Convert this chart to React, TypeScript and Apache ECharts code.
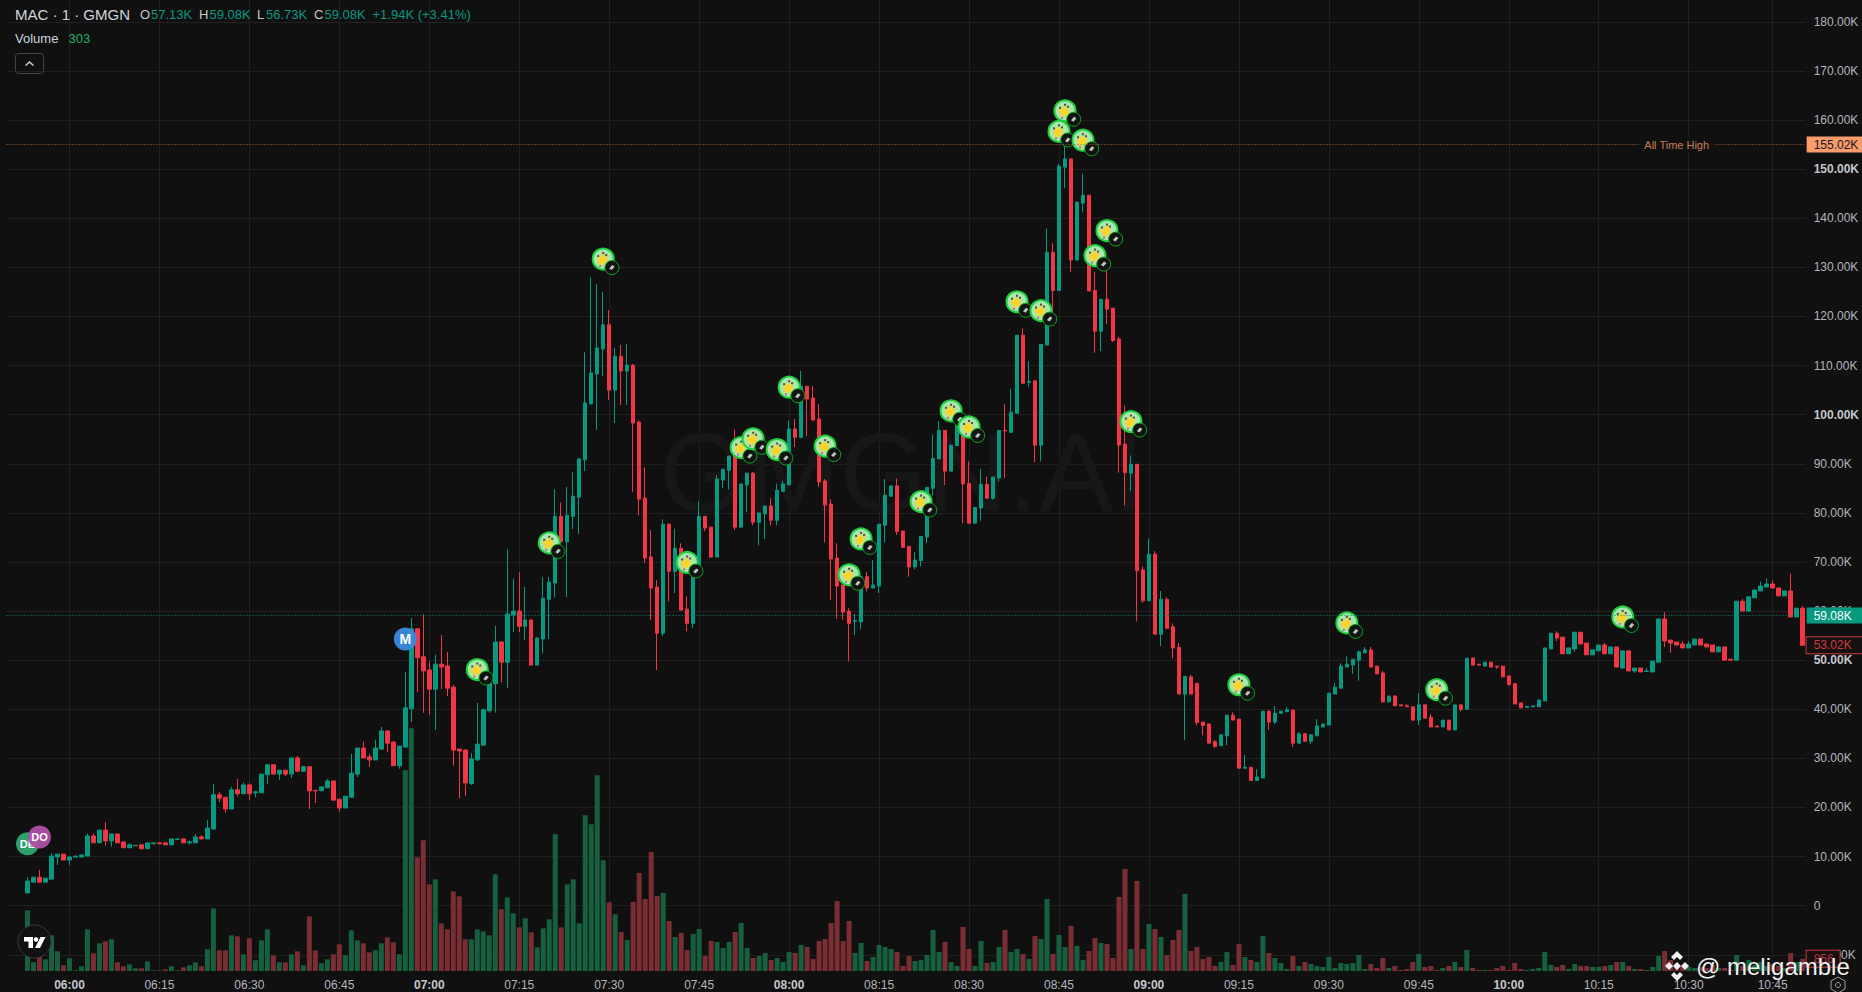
import React, { useEffect, useRef } from "react";
import * as echarts from "echarts";

const FONT = '"Liberation Sans", Arial, sans-serif';
const UP = "#089981";
const DOWN = "#F23645";

const opens = [
  2.6,4.8,5.8,4.8,5.4,9.9,10.5,9.3,9.9,9.9,
  10.1,14.2,12.8,15.4,13.2,14.6,13.0,11.8,12.2,12.4,
  11.6,12.6,12.8,12.8,12.4,13.5,13.6,12.8,12.8,14.0,
  13.6,15.6,22.6,22.1,19.7,23.6,22.8,24.6,23.0,23.0,
  26.7,28.7,26.8,27.6,26.8,30.1,27.4,28.3,23.5,23.4,
  24.0,25.4,21.7,19.9,22.1,26.8,32.1,30.3,29.7,31.9,
  35.6,33.3,28.5,32.3,40.1,56.4,50.7,48.0,44.1,49.2,
  48.8,44.5,31.9,31.7,24.9,29.7,32.7,39.7,45.2,53.7,
  49.6,59.2,60.0,56.9,58.2,49.0,54.3,62.4,65.7,79.3,
  74.1,79.3,83.2,90.8,102.2,108.3,113.4,118.3,105.0,111.9,
  108.9,110.1,98.5,83.0,71.0,64.9,55.5,77.7,68.1,72.8,
  60.4,57.5,69.2,79.3,77.1,71.0,86.7,88.7,94.0,77.1,
  85.7,88.1,78.1,79.8,81.4,78.5,84.4,85.7,97.1,95.4,
  105.8,103.4,99.1,86.5,81.8,70.8,65.3,60.0,57.9,57.8,
  67.0,64.7,65.1,77.5,83.4,85.5,76.3,73.2,69.0,70.3,
  75.1,85.0,91.0,96.8,88.5,93.7,96.0,86.0,77.9,81.0,
  85.8,83.0,87.1,96.8,96.4,100.3,116.2,106.6,106.9,93.8,
  114.2,133.1,125.3,150.4,152.1,131.5,143.1,144.7,125.3,117.0,
  123.5,121.7,115.4,94.0,88.1,89.9,68.4,62.1,71.6,55.3,
  62.4,56.8,52.6,43.1,46.6,45.3,37.4,37.0,33.4,32.6,
  34.6,38.8,38.0,28.0,28.2,25.5,26.0,39.6,37.4,39.2,
  39.5,39.8,33.1,35.0,33.5,34.6,36.4,36.8,43.1,44.3,
  48.6,49.0,50.0,51.5,52.1,48.8,47.4,41.5,42.7,40.9,
  40.7,40.5,37.8,40.9,38.4,36.6,36.4,37.8,35.8,40.9,
  40.0,50.4,49.2,48.8,49.6,48.8,48.8,46.8,45.2,41.3,
  40.4,40.5,40.5,41.7,52.3,55.5,54.7,51.3,52.3,55.7,
  53.5,51.1,51.9,53.1,51.3,52.7,48.4,51.9,47.8,48.4,
  47.7,47.6,49.6,58.4,54.1,53.7,53.3,52.5,53.1,54.3,
  53.3,53.1,51.7,52.7,50.2,50.0,62.0,60.0,62.7,64.1,
  64.9,65.5,64.7,63.1,64.1,58.8,60.6,
];
const closes = [
  5.0,5.8,4.8,5.6,10.1,10.5,9.3,9.9,10.1,10.3,
  14.2,12.8,15.4,13.2,14.6,12.8,11.8,12.4,12.3,11.6,
  12.8,12.8,12.6,12.4,13.6,13.6,12.8,13.0,14.0,13.6,
  15.8,22.6,21.9,19.7,23.6,22.8,24.6,22.8,23.2,26.8,
  28.7,26.8,27.6,26.8,30.1,27.4,28.3,23.4,23.4,24.2,
  25.4,21.5,19.9,22.3,27.0,32.1,30.1,29.7,32.1,35.6,
  33.1,28.5,32.5,40.3,56.4,50.5,47.8,44.1,49.2,48.6,
  44.3,31.7,31.5,25.0,29.9,32.9,39.9,45.2,53.7,49.6,
  59.4,60.0,56.9,58.2,49.0,54.5,62.6,65.9,79.3,74.1,
  79.5,83.4,91.0,102.4,108.5,113.6,118.3,105.0,111.9,108.9,
  110.1,98.3,82.8,70.8,64.7,55.5,77.7,68.1,72.8,60.2,
  57.5,69.3,79.3,76.9,71.0,86.9,88.9,91.6,77.1,85.9,
  88.1,78.1,80.0,81.4,78.5,84.6,85.9,97.1,95.4,105.8,
  103.2,98.9,86.3,81.6,70.6,65.1,59.8,57.5,58.1,67.0,
  64.7,65.3,77.7,83.6,85.5,76.2,73.0,69.0,70.4,75.2,
  85.2,91.1,96.8,88.5,93.8,97.9,85.9,77.9,81.1,85.8,
  83.0,87.3,96.8,96.7,100.5,116.2,106.4,106.8,93.8,114.3,
  133.1,125.3,150.6,152.1,131.5,143.3,144.7,125.2,117.0,123.5,
  121.5,115.1,93.8,88.2,89.9,68.2,62.1,71.6,55.3,62.4,
  56.5,52.5,43.1,46.7,43.1,37.3,36.7,33.1,32.4,34.8,
  38.8,37.8,28.0,28.2,25.5,26.2,39.6,37.4,39.2,39.6,
  39.9,33.1,35.0,33.5,34.8,36.6,37.0,43.3,44.5,48.8,
  49.2,50.2,51.7,52.1,48.6,47.2,41.5,42.7,40.7,40.7,
  40.5,37.8,40.9,38.2,36.4,36.4,37.8,35.8,40.9,40.0,
  50.4,49.0,49.0,49.6,48.6,48.6,46.6,45.0,41.1,40.3,
  40.6,40.7,41.9,52.5,55.5,54.5,51.3,52.5,55.7,53.3,
  51.1,52.1,53.1,51.3,52.7,48.6,51.9,47.8,48.4,47.6,
  47.8,49.8,58.4,53.9,53.5,53.1,52.5,53.3,54.3,53.1,
  52.7,51.7,52.7,50.0,50.0,62.0,60.0,62.9,64.3,65.1,
  65.5,64.7,63.1,64.1,58.8,60.6,53.02,
];
const lows = [
  2.6,4.8,4.7,4.8,5.4,8.3,9.3,8.3,9.9,9.9,
  10.1,12.8,12.8,12.2,12.0,12.8,11.8,11.8,12.2,11.6,
  11.6,12.6,12.6,12.4,12.4,13.5,12.8,12.4,12.8,13.6,
  13.6,15.6,21.1,18.9,19.7,22.2,22.8,21.5,22.1,23.0,
  24.8,26.8,25.6,26.4,26.0,27.2,27.2,19.7,20.9,23.4,
  24.0,21.5,19.1,19.9,22.1,26.2,30.1,28.3,29.7,31.7,
  31.3,28.5,27.9,32.3,37.4,43.5,39.3,38.8,35.8,44.1,
  42.7,28.5,21.9,22.3,24.6,29.5,32.7,39.3,39.3,45.4,
  44.3,55.7,55.7,54.1,49.0,49.0,51.4,54.3,62.8,74.1,
  62.9,76.7,75.7,88.5,102.2,96.9,107.9,103.0,98.3,102.0,
  102.0,84.2,79.5,69.8,58.2,48.0,54.9,62.0,63.7,60.2,
  55.9,56.5,69.2,76.3,71.0,71.0,85.0,84.8,76.5,77.0,
  80.2,77.5,73.4,74.7,77.5,77.5,84.4,85.7,93.4,95.2,
  95.6,98.9,85.3,74.0,62.3,58.4,58.2,49.8,55.1,56.3,
  64.0,64.7,63.7,74.0,83.4,75.5,73.0,67.0,68.5,69.1,
  73.8,83.5,91.0,85.7,88.5,93.7,77.9,77.9,77.9,78.4,
  83.0,82.7,86.4,87.1,96.4,100.3,106.4,105.6,90.3,90.5,
  114.2,120.9,125.3,146.1,129.1,131.5,141.2,125.2,112.6,113.0,
  118.4,114.8,88.2,81.5,84.4,57.9,61.7,62.1,55.2,52.9,
  56.5,50.4,43.1,33.7,43.1,36.7,34.7,33.1,32.2,32.6,
  32.7,37.8,28.0,28.0,25.5,25.5,26.0,35.8,37.0,39.2,
  39.5,32.3,33.1,33.5,32.9,34.6,36.4,36.8,43.1,44.3,
  48.6,47.2,45.8,51.5,48.6,47.2,41.5,41.5,40.7,40.7,
  40.5,37.8,36.8,38.2,36.4,36.4,36.4,35.8,35.8,39.6,
  40.0,49.0,49.0,48.8,48.6,48.2,46.6,45.0,41.1,40.3,
  40.3,40.5,40.5,41.7,52.3,53.9,51.3,51.3,51.7,53.3,
  51.1,51.1,51.9,51.3,51.3,48.6,48.4,47.8,47.4,47.6,
  47.6,47.6,49.6,52.7,51.5,53.1,52.5,52.5,53.1,53.1,
  52.7,51.7,51.7,50.0,50.0,50.0,60.0,60.0,62.7,64.1,
  64.9,64.7,63.1,63.1,58.8,58.8,53.02,
];
const highs = [
  5.8,5.8,7.3,5.6,10.7,10.6,10.5,9.9,10.1,10.5,
  14.7,14.7,15.4,17.0,14.6,14.6,13.0,12.7,12.3,12.4,
  12.8,12.8,12.8,12.8,13.6,13.6,13.6,13.3,14.6,14.4,
  17.4,24.8,23.2,22.1,24.2,25.8,25.1,24.9,23.4,26.8,
  28.7,28.7,27.6,27.6,30.1,30.5,28.5,28.3,23.5,24.2,
  25.8,25.4,21.7,22.3,30.9,32.1,33.4,30.9,33.8,36.4,
  35.6,33.6,32.5,47.6,58.6,56.4,59.4,49.8,51.1,55.1,
  51.7,45.0,31.9,31.9,31.1,41.3,40.1,45.2,57.0,53.9,
  72.6,66.6,67.9,64.9,58.2,54.7,66.9,67.0,84.8,82.1,
  85.3,88.3,91.0,112.7,128.0,126.6,125.0,121.3,113.6,114.2,
  114.4,110.3,98.9,89.3,76.5,66.3,78.7,77.9,76.8,73.8,
  63.0,69.3,82.4,79.3,77.1,87.7,88.9,91.6,97.0,85.9,
  88.1,88.3,80.0,81.4,83.0,86.0,86.5,98.8,99.1,108.9,
  105.8,105.8,102.2,86.9,82.8,73.8,65.4,60.6,59.4,67.0,
  67.9,70.4,77.7,86.9,85.5,87.0,76.3,73.2,72.0,75.2,
  85.2,96.0,98.7,96.8,93.8,97.9,96.0,90.5,81.1,89.0,
  87.4,87.3,96.8,102.2,105.3,116.2,117.6,110.9,106.9,114.3,
  137.9,134.9,151.1,156.0,152.1,143.3,149.1,144.7,129.0,123.5,
  129.5,121.7,115.9,101.9,91.7,89.9,69.1,74.8,72.2,64.1,
  62.8,57.5,53.5,46.7,47.0,45.3,37.4,37.0,33.7,34.8,
  38.8,39.4,38.0,30.7,28.2,27.8,39.6,39.8,40.7,39.6,
  40.5,40.0,35.4,35.2,34.8,38.0,37.0,43.3,45.3,49.4,
  50.8,50.2,52.0,52.7,52.7,48.8,47.8,42.7,42.9,40.9,
  41.1,40.5,43.3,40.9,39.0,36.6,37.8,37.8,40.9,41.1,
  50.4,50.6,49.2,49.6,49.6,48.8,48.8,46.8,45.2,41.3,
  40.6,40.7,41.9,52.5,55.5,55.9,54.7,52.5,55.7,55.7,
  53.5,52.1,53.1,53.5,52.7,52.7,51.9,51.9,48.4,48.4,
  48.4,49.8,58.4,59.8,54.1,53.7,53.9,53.9,54.3,54.3,
  53.3,53.1,52.7,52.7,50.2,62.0,62.5,62.9,64.3,66.0,
  66.7,66.3,64.7,64.1,67.6,60.6,61.0,
];
const volumes = [
  4250,610,1030,817,2497,1377,397,887,47,327,
  2917,1237,1937,2077,2217,607,327,467,187,187,
  677,47,47,117,327,47,257,397,607,327,
  1517,4387,1447,1447,2497,2427,1167,2287,747,2147,
  2917,1097,607,607,1167,1377,397,3827,1447,537,
  817,1167,1867,1097,2847,2147,1937,1307,1447,1937,
  2357,2007,1167,14047,16987,7957,9147,6067,6417,3337,
  2917,5577,5227,2217,2217,2917,2777,2497,6767,4317,
  5157,4037,3057,3687,2707,1657,2987,3617,9567,3057,
  6067,6417,3337,10897,10267,13697,7747,4807,3967,2730,
  2170,4830,6860,5040,8330,5250,5460,3500,2380,2660,
  1470,2590,2940,1050,2100,2030,1610,2030,2730,3360,
  1610,910,1050,1260,770,910,630,1330,1260,1820,
  1680,840,2100,2240,3360,4900,2100,3500,1260,1960,
  700,980,1820,1680,1540,1330,350,1050,700,770,
  1120,2870,1330,2030,630,350,3080,1540,350,2100,
  560,630,1680,2870,1330,1540,1190,840,2450,2240,
  5040,1190,2520,1680,3150,1750,770,1400,2310,1960,
  1890,910,5180,7140,1540,6300,1540,3290,2940,2380,
  1120,2170,2870,5390,1400,1680,840,980,350,630,
  1330,420,1890,980,770,630,2450,1260,910,560,
  140,1050,350,630,490,350,280,980,210,560,
  490,560,1120,140,490,210,910,210,350,70,
  140,630,1190,280,350,70,210,350,630,280,
  1470,210,70,70,70,210,350,70,560,140,
  70,140,210,1330,420,280,420,140,490,350,
  350,280,280,350,420,630,630,350,140,140,
  70,280,1050,1400,770,420,280,280,210,280,
  210,420,210,210,70,1120,350,770,420,630,
  350,490,350,210,1260,630,856,
];

// Empty slots on the left of the time scale, then 297 one-minute bars from 05:53.
const LEAD_SLOTS = 3;
const timeTicks = [
  "06:00","06:15","06:30","06:45","07:00","07:15","07:30","07:45","08:00","08:15","08:30",
  "08:45","09:00","09:15","09:30","09:45","10:00","10:15","10:30","10:45",
];
const boldTimes = ["06:00","07:00","08:00","09:00","10:00"];
const priceTicks = [-10,0,10,20,30,40,50,60,70,80,90,100,110,120,130,140,150,160,170,180];
const boldPrices = [50,100,150];
const hhmm = (m: number) => `${String(Math.floor(m / 60)).padStart(2, "0")}:${String(m % 60).padStart(2, "0")}`;
const categories: string[] = [];
for (let i = 0; i < LEAD_SLOTS; i++) categories.push(`lead${i}`);
for (let n = 1; n <= opens.length; n++) categories.push(hhmm(353 + (n - 1) + (n > 285 ? 1 : 0)));

const tokenBars = [97,88,76,111,120,122,126,128,134,140,138,174,173,177,181,179,166,170,155,158,150,185,203,221,236,267];
const tokenPrices = [131.7,73.9,48.1,69.9,93.3,95.1,92.9,105.6,93.6,74.7,67.4,161.9,157.7,155.9,137.5,132.4,123,121.2,100.8,97.5,82.3,98.6,45,57.6,44,58.8];
const letterNames = ["DE", "DO", "M"];
const letterBars = [1, 3, 64];
const letterPrices = [12.6, 14, 54.3];
const letterColors = ["#2fa873", "#b04fa6", "#3a8ae0"];

const ALL_TIME_HIGH = 155.02;
const LAST_PRICE = 59.08;
const PREV_TAG = 53.02;
const LAST_VOLUME_TAG = 856;

const STAR = [[-8,1],[-4,-1],[-3,-5],[-1,-2],[1,-6],[2,-1],[5,-3],[3,2],[5,3],[1,4],[-1,8],[-2,4],[-6,6],[-4,2]];

function App() {
  const ref = useRef<HTMLDivElement>(null);
  useEffect(() => {
    const chart = echarts.init(ref.current!, undefined, { renderer: "svg" });
    const pad = (a: any[]) => [...Array(LEAD_SLOTS).fill("-"), ...a];
    const candles = opens.map((o, i) => [o, closes[i], lows[i], highs[i]]);
    const bars = volumes.map((v, i) => ({
      value: v,
      itemStyle: { color: closes[i] >= opens[i] ? "#17603f" : "#7a2e33" },
    }));
    const isTick = (i: number) => timeTicks.includes(categories[i]);
    const hline = (val: number, color: string, text: string, bg: string, fg: string, border?: string) => ({
      yAxis: val,
      lineStyle: { color, type: [1, 2] as any, width: 1 },
      label: {
        show: true, position: "end", formatter: text, distance: 1,
        backgroundColor: bg, color: fg, fontSize: 12, fontFamily: FONT,
        padding: [2, 2, 2, 7], width: 48, borderColor: border, borderWidth: border ? 1 : 0, align: "left",
      },
    });
    const htext = (x: number, y: number, text: string, fill: string, fontSize = 13, fontWeight: any = "normal") => ({
      type: "text", x, y, z: 50,
      style: { text, fill, fontSize, fontWeight, fontFamily: FONT, textVerticalAlign: "middle" },
    });
    chart.setOption({
      animation: false,
      backgroundColor: "#101010",
      textStyle: { fontFamily: FONT },
      grid: { left: 6.5, width: 1800, top: 0, height: 971, containLabel: false },
      xAxis: {
        type: "category", data: categories, boundaryGap: true,
        axisLine: { show: false }, axisTick: { show: false },
        splitLine: { show: true, interval: (i: number) => isTick(i), alignWithLabel: true, lineStyle: { color: "#202020", width: 1 } },
        axisLabel: {
          interval: (i: number) => isTick(i), color: "#b2b5be", fontSize: 12, margin: 8, fontFamily: FONT,
          formatter: (v: string) => (boldTimes.includes(v) ? `{b|${v}}` : v),
          rich: { b: { fontWeight: "bold", fontSize: 12, color: "#c4c6cc", fontFamily: FONT } },
        },
      },
      yAxis: [
        {
          type: "value", position: "right", min: -13.3, max: 184.46,
          axisLine: { show: false }, axisTick: { show: false, customValues: priceTicks },
          splitLine: { show: true, lineStyle: { color: "#202020", width: 1 } },
          axisLabel: {
            customValues: priceTicks,
            margin: 8, color: "#b2b5be", fontSize: 12, fontFamily: FONT,
            formatter: (v: number) => {
              if (v === 0) return "0";
              const s = `${v.toFixed(2)}K`;
              return boldPrices.includes(v) ? `{b|${s}}` : s;
            },
            rich: { b: { fontWeight: "bold", fontSize: 12, color: "#c4c6cc", fontFamily: FONT } },
          },
        },
        { type: "value", show: false, min: 0, max: 67970, splitLine: { show: false } },
      ],
      graphic: [
        // watermark behind the chart
        { type: "text", x: 902, y: 472, z: 1, style: { text: "GMGN.AI", fill: "#171717", fontSize: 112, fontFamily: FONT, textAlign: "center", textVerticalAlign: "middle" } },
        // header
        htext(15, 14, "MAC · 1 · GMGN", "#d1d4dc", 15),
        htext(140, 14, "O", "#c8c8c8"), htext(151, 14, "57.13K", UP),
        htext(199, 14, "H", "#c8c8c8"), htext(209.5, 14, "59.08K", UP),
        htext(257, 14, "L", "#c8c8c8"), htext(266, 14, "56.73K", UP),
        htext(314, 14, "C", "#c8c8c8"), htext(324.5, 14, "59.08K", UP),
        htext(372.5, 14, "+1.94K (+3.41%)", UP),
        htext(15, 38, "Volume", "#d1d4dc"), htext(68.5, 38, "303", "#22ab60"),
        { type: "rect", z: 50, shape: { x: 15.5, y: 53.5, width: 28, height: 20, r: 3 }, style: { fill: "none", stroke: "#444", lineWidth: 1 } },
        { type: "polyline", z: 50, shape: { points: [[25.5, 65.5], [29.5, 62], [33.5, 65.5]] }, style: { fill: "none", stroke: "#d1d4dc", lineWidth: 1.4 } },
        // TradingView badge
        { type: "circle", z: 50, shape: { cx: 34.5, cy: 941.5, r: 16.5 }, style: { fill: "#111", stroke: "#3a3a3a", lineWidth: 1 } },
        { type: "polygon", z: 51, shape: { points: [[24, 937], [33, 937], [33, 948], [28.5, 948], [28.5, 941.5], [24, 941.5]] }, style: { fill: "#fff" } },
        { type: "circle", z: 51, shape: { cx: 36, cy: 939.4, r: 2.3 }, style: { fill: "#fff" } },
        { type: "polygon", z: 51, shape: { points: [[40.5, 937], [45.5, 937], [40, 948], [35, 948]] }, style: { fill: "#fff" } },
        // settings glyph
        { type: "polygon", z: 50, shape: { points: [[1838, 977], [1845, 981], [1845, 989], [1838, 993], [1831, 989], [1831, 981]] }, style: { fill: "none", stroke: "#a0a0a0", lineWidth: 1 } },
        { type: "circle", z: 50, shape: { cx: 1838, cy: 985, r: 2.5 }, style: { fill: "none", stroke: "#a0a0a0", lineWidth: 1 } },
        // image watermark at the bottom right
        { type: "polygon", z: 60, shape: { points: [[1677, 951], [1683, 957], [1680, 960], [1677, 957], [1674, 960], [1671, 957]] }, style: { fill: "#f0f0f0" } },
        { type: "polygon", z: 60, shape: { points: [[1677, 981], [1683, 975], [1680, 972], [1677, 975], [1674, 972], [1671, 975]] }, style: { fill: "#f0f0f0" } },
        { type: "polygon", z: 60, shape: { points: [[1665, 966], [1669, 962], [1673, 966], [1669, 970]] }, style: { fill: "#f0f0f0" } },
        { type: "polygon", z: 60, shape: { points: [[1689, 966], [1685, 962], [1681, 966], [1685, 970]] }, style: { fill: "#f0f0f0" } },
        { type: "polygon", z: 60, shape: { points: [[1677, 962], [1681, 966], [1677, 970], [1673, 966]] }, style: { fill: "#f0f0f0" } },
        { type: "text", x: 1696, y: 966, z: 60, style: { text: "@ meligamble", fill: "#f0f0f0", fontSize: 24, fontFamily: FONT, textVerticalAlign: "middle" } },
      ],
      series: [
        {
          type: "bar", name: "Volume", xAxisIndex: 0, yAxisIndex: 1, data: pad(bars), barWidth: 5, z: 2,
          markLine: {
            silent: true, symbol: "none", z: 20,
            data: [{
              yAxis: LAST_VOLUME_TAG, lineStyle: { color: "transparent", width: 0 },
              label: { show: true, position: "end", distance: 1, formatter: String(LAST_VOLUME_TAG), backgroundColor: "#1a1010", color: "#b0393f", borderColor: "#c73a40", borderWidth: 1, fontSize: 12, fontFamily: FONT, padding: [2, 2, 2, 7], width: 24 },
            }],
          },
        },
        {
          type: "candlestick", name: "MAC", data: pad(candles), barWidth: 4, z: 3,
          itemStyle: { color: UP, color0: DOWN, borderColor: UP, borderColor0: DOWN, borderWidth: 1 },
          markLine: {
            silent: true, symbol: "none", z: 20,
            data: [
              hline(ALL_TIME_HIGH, "#a9683f", "155.02K", "#f99b6b", "#131722"),
              hline(LAST_PRICE, "#0b8a74", "59.08K", UP, "#fff"),
              { ...hline(PREV_TAG, "transparent", "53.02K", "#161010", "#d23a42", "#c73a40"), lineStyle: { color: "transparent", width: 0 } },
            ],
          },
        },
        {
          type: "scatter", name: "All Time High", data: [[LEAD_SLOTS + 275, ALL_TIME_HIGH]], symbolSize: 0, z: 21, silent: true,
          label: { show: true, position: "inside", formatter: "All Time High", color: "#f59a6b", fontSize: 11, fontFamily: FONT, backgroundColor: "#101010", padding: [2, 5] },
        },
        {
          type: "custom", name: "Letters", z: 5, clip: false, silent: true,
          data: letterBars.map((b, i) => [b + LEAD_SLOTS - 1, letterPrices[i], i]),
          encode: { x: 0, y: 1 },
          renderItem: (_p: any, api: any) => {
            const [x, y] = api.coord([api.value(0), api.value(1)]);
            const i = api.value(2);
            return {
              type: "group", x, y,
              children: [
                { type: "circle", shape: { cx: 0, cy: 0, r: 11.5 }, style: { fill: letterColors[i], opacity: 0.95 } },
                { type: "text", style: { x: 0, y: 0, text: letterNames[i], fill: "#fff", fontSize: i === 2 ? 14 : 11, fontWeight: "bold", fontFamily: FONT, textAlign: "center", textVerticalAlign: "middle" } },
              ],
            };
          },
        },
        {
          type: "custom", name: "Tokens", z: 6, clip: false, silent: true,
          data: tokenBars.map((b, i) => [b + LEAD_SLOTS - 1, tokenPrices[i]]),
          encode: { x: 0, y: 1 },
          renderItem: (_p: any, api: any) => {
            const [x, y] = api.coord([api.value(0), api.value(1)]);
            return {
              type: "group", x, y,
              children: [
                { type: "circle", shape: { cx: 0, cy: 0, r: 10.5 }, style: { fill: "#a8e6b2", stroke: "#1fd13c", lineWidth: 2 } },
                { type: "polygon", shape: { points: STAR }, style: { fill: "#ffd42a" } },
                { type: "rect", shape: { x: -6, y: -4, width: 2, height: 2 }, style: { fill: "#5a5030" } },
                { type: "rect", shape: { x: -1, y: -7, width: 2, height: 2 }, style: { fill: "#5a5030" } },
                { type: "rect", shape: { x: 2, y: -5, width: 2, height: 2 }, style: { fill: "#5a5030" } },
                { type: "rect", shape: { x: -4, y: 6, width: 2, height: 2 }, style: { fill: "#b070a0" } },
                { type: "circle", shape: { cx: 8.7, cy: 8.5, r: 7 }, style: { fill: "#131313", stroke: "#0aa81f", lineWidth: 1 } },
                { type: "polygon", shape: { points: [[6, 9.5], [9, 6], [11.5, 7.5], [8.5, 11]] }, style: { fill: "#b8cabc" } },
              ],
            };
          },
        },
      ],
    });
    return () => chart.dispose();
  }, []);
  return <div ref={ref} style={{ position: "fixed", left: 0, top: 0, width: 1862, height: 992 }} />;
}

export default App;
